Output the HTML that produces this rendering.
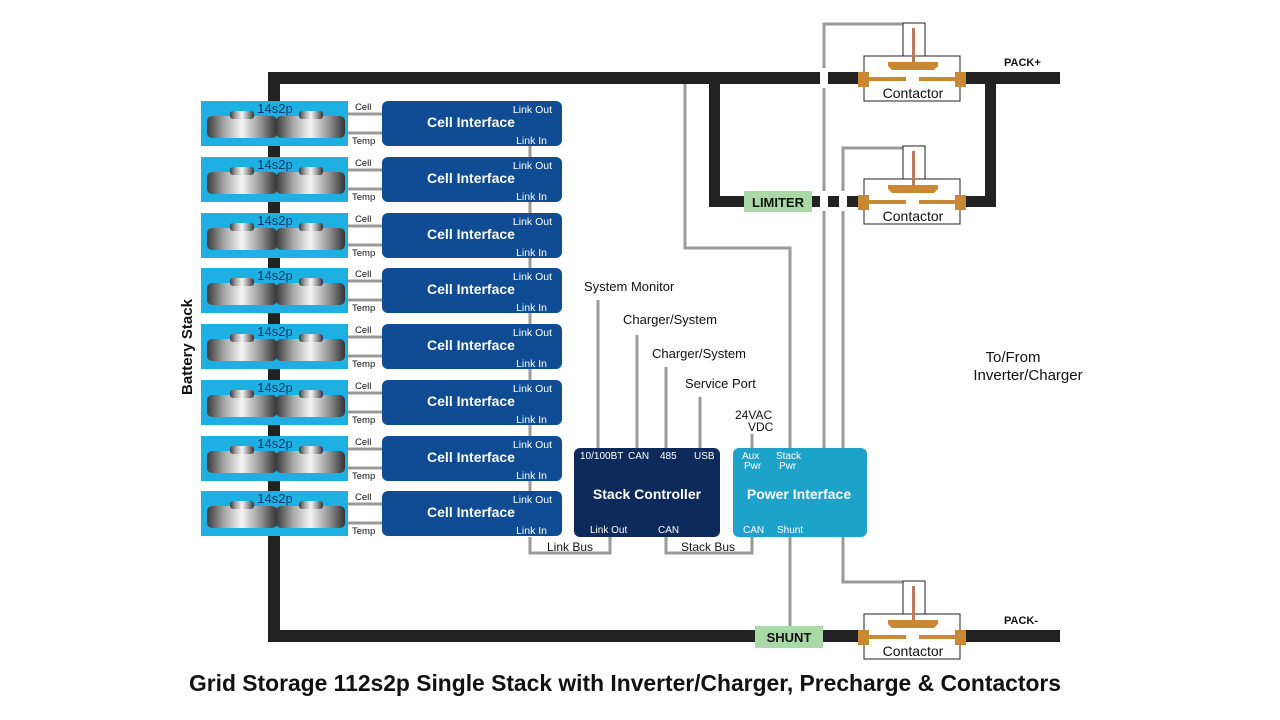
<!DOCTYPE html>
<html><head><meta charset="utf-8"><style>
html,body{margin:0;padding:0;background:#fff;width:1280px;height:720px;overflow:hidden}
text{font-family:"Liberation Sans",Arial,sans-serif}
</style></head><body>
<svg width="1280" height="720" viewBox="0 0 1280 720" xmlns="http://www.w3.org/2000/svg">
<defs>
<linearGradient id="cyl" x1="0" x2="1" y1="0" y2="0">
<stop offset="0" stop-color="#3a3a3a"/><stop offset="0.25" stop-color="#a8a8a8"/><stop offset="0.5" stop-color="#f4f4f4"/><stop offset="0.75" stop-color="#9a9a9a"/><stop offset="1" stop-color="#333"/>
</linearGradient>
<g id="cell">
<rect x="0" y="0" width="147" height="45" fill="#1fb0e3"/>
<rect x="6" y="15" width="70" height="22" rx="5" fill="url(#cyl)"/>
<rect x="75" y="15" width="69" height="22" rx="5" fill="url(#cyl)"/>
<rect x="29" y="10" width="24" height="8" rx="3" fill="url(#cyl)"/>
<rect x="98" y="10" width="24" height="8" rx="3" fill="url(#cyl)"/>
<line x1="147" y1="13" x2="181" y2="13" stroke="#999" stroke-width="3"/>
<line x1="147" y1="32" x2="181" y2="32" stroke="#999" stroke-width="3"/>
<rect x="181" y="0" width="180" height="45" rx="6" fill="#0f4c93"/>
</g>
<g id="cont">
<rect x="39" y="-33" width="22" height="33" fill="#fff" stroke="#222" stroke-width="1"/>
<rect x="0" y="0" width="96" height="45" fill="#fff" stroke="#222" stroke-width="1"/>
<rect x="48" y="-28" width="3" height="36" fill="#b77a5a"/>
<path d="M24 6 h50 v4 l-4 4 h-42 l-4 -4z" fill="#c98833"/>
<rect x="-4" y="21" width="46" height="4" fill="#c98833"/>
<rect x="55" y="21" width="45" height="4" fill="#c98833"/>
<rect x="-6" y="16" width="11" height="15" fill="#c98833"/>
<rect x="91" y="16" width="11" height="15" fill="#c98833"/>
</g>
</defs>

<g stroke="#9a9a9a" stroke-width="3" fill="none">
<polyline points="903,24 824,24 824,448"/>
<polyline points="903,148 843,148 843,448"/>
<polyline points="903,582 843,582 843,537"/>
<polyline points="685,84 685,248 790,248 790,448"/>
<line x1="790" y1="537" x2="790" y2="628"/>
<line x1="598" y1="300" x2="598" y2="448"/>
<line x1="637" y1="335" x2="637" y2="448"/>
<line x1="666" y1="367" x2="666" y2="448"/>
<line x1="700" y1="397" x2="700" y2="448"/>
<line x1="752" y1="434" x2="752" y2="448"/>
<polyline points="530,537 530,553 610,553 610,537"/>
<polyline points="666,537 666,553 752,553 752,537"/>
<line x1="530" y1="146" x2="530" y2="491"/>
</g>
<g fill="#fff"><rect x="820" y="68" width="8" height="20"/><rect x="820" y="191" width="8" height="20"/><rect x="839" y="191" width="8" height="20"/></g>

<g fill="#222">
<rect x="268" y="72" width="12" height="570"/>
<rect x="268" y="72" width="792" height="12"/>
<rect x="268" y="630" width="792" height="12"/>
<rect x="709" y="72" width="11" height="135"/>
<rect x="709" y="196" width="287" height="11"/>
<rect x="985" y="72" width="11" height="135"/>
</g>
<g fill="#fff"><rect x="820" y="72" width="8" height="12"/><rect x="820" y="196" width="8" height="11"/><rect x="839" y="196" width="8" height="11"/></g>

<rect x="744" y="191" width="68" height="21" fill="#a9d9a6"/>
<text x="778" y="207" font-size="13" font-weight="bold" text-anchor="middle" fill="#111">LIMITER</text>
<rect x="755" y="626" width="68" height="22" fill="#a9d9a6"/>
<text x="789" y="642" font-size="13" font-weight="bold" text-anchor="middle" fill="#111">SHUNT</text>

<use href="#cont" x="864" y="56"/>
<use href="#cont" x="864" y="179"/>
<use href="#cont" x="864" y="614"/>
<g font-size="14" text-anchor="middle" fill="#111">
<text x="913" y="98">Contactor</text>
<text x="913" y="221">Contactor</text>
<text x="913" y="656">Contactor</text>
</g>
<g font-size="11" font-weight="bold" fill="#111">
<text x="1004" y="66">PACK+</text>
<text x="1004" y="624">PACK-</text>
</g>

<g>
<use href="#cell" x="201" y="101"/><use href="#cell" x="201" y="157"/><use href="#cell" x="201" y="213"/><use href="#cell" x="201" y="268"/>
<use href="#cell" x="201" y="324"/><use href="#cell" x="201" y="380"/><use href="#cell" x="201" y="436"/><use href="#cell" x="201" y="491"/>
</g>
<g font-size="13" fill="#0a3a66" text-anchor="middle">
<text x="275" y="113">14s2p</text><text x="275" y="169">14s2p</text><text x="275" y="225">14s2p</text><text x="275" y="280">14s2p</text><text x="275" y="336">14s2p</text><text x="275" y="392">14s2p</text><text x="275" y="448">14s2p</text><text x="275" y="503">14s2p</text>
</g>
<g font-size="9.5" fill="#111">
<text x="355" y="110">Cell</text><text x="352" y="144">Temp</text>
<text x="355" y="166">Cell</text><text x="352" y="200">Temp</text>
<text x="355" y="222">Cell</text><text x="352" y="256">Temp</text>
<text x="355" y="277">Cell</text><text x="352" y="311">Temp</text>
<text x="355" y="333">Cell</text><text x="352" y="367">Temp</text>
<text x="355" y="389">Cell</text><text x="352" y="423">Temp</text>
<text x="355" y="445">Cell</text><text x="352" y="479">Temp</text>
<text x="355" y="500">Cell</text><text x="352" y="534">Temp</text>
</g>
<g fill="#fff">
<g font-size="14" font-weight="bold" text-anchor="middle">
<text x="471" y="127">Cell Interface</text><text x="471" y="183">Cell Interface</text><text x="471" y="239">Cell Interface</text><text x="471" y="294">Cell Interface</text>
<text x="471" y="350">Cell Interface</text><text x="471" y="406">Cell Interface</text><text x="471" y="462">Cell Interface</text><text x="471" y="517">Cell Interface</text>
</g>
<g font-size="10.5" text-anchor="end">
<text x="552" y="113">Link Out</text><text x="547" y="144">Link In</text>
<text x="552" y="169">Link Out</text><text x="547" y="200">Link In</text>
<text x="552" y="225">Link Out</text><text x="547" y="256">Link In</text>
<text x="552" y="280">Link Out</text><text x="547" y="311">Link In</text>
<text x="552" y="336">Link Out</text><text x="547" y="367">Link In</text>
<text x="552" y="392">Link Out</text><text x="547" y="423">Link In</text>
<text x="552" y="448">Link Out</text><text x="547" y="479">Link In</text>
<text x="552" y="503">Link Out</text><text x="547" y="534">Link In</text>
</g>
</g>
<text transform="translate(192,347) rotate(-90)" font-size="15" font-weight="bold" text-anchor="middle" fill="#111">Battery Stack</text>

<rect x="574" y="448" width="146" height="89" rx="6" fill="#0c2a5c"/>
<rect x="733" y="448" width="134" height="89" rx="6" fill="#1da3c9"/>
<g fill="#fff">
<text x="647" y="499" font-size="14" font-weight="bold" text-anchor="middle">Stack Controller</text>
<text x="799" y="499" font-size="14" font-weight="bold" text-anchor="middle">Power Interface</text>
<g font-size="10">
<text x="580" y="459">10/100BT</text><text x="628" y="459">CAN</text><text x="660" y="459">485</text><text x="694" y="459">USB</text>
<text x="590" y="533">Link Out</text><text x="658" y="533">CAN</text>
<text x="742" y="459">Aux</text><text x="744" y="469">Pwr</text><text x="776" y="459">Stack</text><text x="779" y="469">Pwr</text>
<text x="743" y="533">CAN</text><text x="777" y="533">Shunt</text>
</g>
</g>
<g font-size="13" fill="#111">
<text x="584" y="291">System Monitor</text>
<text x="623" y="324">Charger/System</text>
<text x="652" y="358">Charger/System</text>
<text x="685" y="388">Service Port</text>
<text x="735" y="419" font-size="12">24VAC</text>
<text x="748" y="431" font-size="12">VDC</text>
<text x="547" y="551" font-size="12">Link Bus</text>
<text x="681" y="551" font-size="12">Stack Bus</text>
<text x="1013" y="362" font-size="15" text-anchor="middle">To/From</text>
<text x="1028" y="380" font-size="15" text-anchor="middle">Inverter/Charger</text>
</g>
<text x="625" y="691" font-size="23" font-weight="bold" text-anchor="middle" fill="#111" textLength="872" lengthAdjust="spacingAndGlyphs">Grid Storage 112s2p Single Stack with Inverter/Charger, Precharge &amp; Contactors</text>
</svg>
</body></html>
